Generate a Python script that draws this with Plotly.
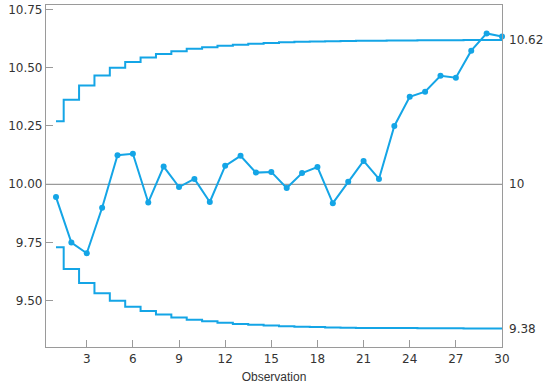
import plotly.graph_objects as go

observation = list(range(1, 31))
ewma = [9.945, 9.750, 9.704, 9.899, 10.125, 10.131, 9.922, 10.076, 9.988, 10.023,
        9.924, 10.079, 10.122, 10.050, 10.053, 9.984, 10.048, 10.074, 9.919, 10.011,
        10.100, 10.023, 10.250, 10.375, 10.397, 10.465, 10.457, 10.573, 10.647, 10.634]
ucl = [10.270, 10.363, 10.424, 10.467, 10.500, 10.525, 10.544, 10.559, 10.571, 10.581,
       10.588, 10.594, 10.599, 10.603, 10.606, 10.609, 10.611, 10.612, 10.614, 10.615,
       10.616, 10.616, 10.617, 10.617, 10.618, 10.618, 10.618, 10.619, 10.619, 10.619]
lcl = [9.730, 9.637, 9.576, 9.533, 9.500, 9.475, 9.456, 9.441, 9.429, 9.419,
       9.412, 9.406, 9.401, 9.397, 9.394, 9.391, 9.389, 9.388, 9.386, 9.385,
       9.384, 9.384, 9.383, 9.383, 9.382, 9.382, 9.382, 9.381, 9.381, 9.381]
center = 10.0
right_labels = [(10.62, "10.62"), (10.0, "10"), (9.38, "9.38")]
y_ticks = [9.50, 9.75, 10.00, 10.25, 10.50, 10.75]
x_ticks = [3, 6, 9, 12, 15, 18, 21, 24, 27, 30]

blue = "#14a5e6"
gray = "#9a9a9a"

fig = go.Figure()
fig.add_trace(go.Scatter(x=[0.35, 30], y=[center, center], mode="lines",
                         line=dict(color=gray, width=1.2), hoverinfo="skip"))
fig.add_trace(go.Scatter(x=observation, y=ucl, mode="lines",
                         line=dict(color=blue, width=2, shape="hvh")))
fig.add_trace(go.Scatter(x=observation, y=lcl, mode="lines",
                         line=dict(color=blue, width=2, shape="hvh")))
fig.add_trace(go.Scatter(x=observation, y=ewma, mode="lines+markers",
                         line=dict(color=blue, width=2),
                         marker=dict(color=blue, size=6), cliponaxis=False))

for v, t in right_labels:
    fig.add_annotation(x=1, xref="paper", y=v, yref="y", text=t, showarrow=False,
                       xanchor="left", xshift=5,
                       font=dict(family="DejaVu Sans", size=12, color="#333333"))

fig.update_layout(
    width=553, height=390,
    margin=dict(l=46, r=51, t=5, b=43, autoexpand=False),
    paper_bgcolor="white", plot_bgcolor="white",
    showlegend=False,
    xaxis=dict(range=[0.35, 30], tickvals=x_ticks, ticktext=[str(v) for v in x_ticks],
               ticks="inside", ticklen=7, tickcolor=gray, showline=True, linecolor=gray,
               linewidth=1.2, mirror=True, showgrid=False, zeroline=False, automargin=False,
               tickfont=dict(family="DejaVu Sans", size=12, color="#333333"),
               title=dict(text="Observation", standoff=8,
                          font=dict(family="Liberation Sans", size=12, color="#333333"))),
    yaxis=dict(range=[9.302, 10.769], tickvals=y_ticks, ticktext=[f"{v:.2f}" for v in y_ticks],
               ticks="inside", ticklen=7, tickcolor=gray, showline=True, linecolor=gray,
               linewidth=1.2, mirror=True, showgrid=False, zeroline=False, automargin=False,
               tickfont=dict(family="DejaVu Sans", size=12, color="#333333")),
)

fig.write_html("out.html", config={"displayModeBar": False},
               post_script="document.body.style.margin='0px';document.body.style.overflow='hidden';")
